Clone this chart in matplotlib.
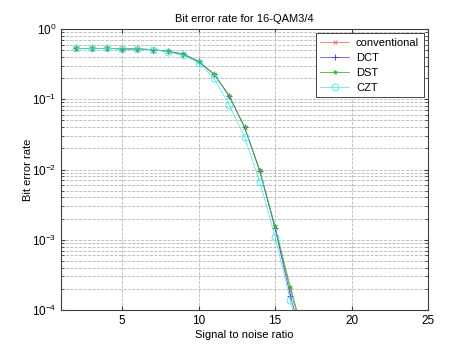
import matplotlib
matplotlib.use("Agg")
import matplotlib.pyplot as plt
import numpy as np

plt.rcParams['font.family'] = ['Liberation Sans', 'DejaVu Sans']
plt.rcParams['mathtext.fontset'] = 'custom'
plt.rcParams['mathtext.rm'] = 'Liberation Sans'
plt.rcParams['mathtext.it'] = 'Liberation Sans'

snr = [2, 3, 4, 5, 6, 7, 8, 9, 10, 11, 12, 13, 14, 15, 16, 17]

ber_conv = [0.53, 0.53, 0.53, 0.52, 0.52, 0.51, 0.48, 0.44, 0.345, 0.228, 0.112,
            0.040, 0.0095, 0.00150, 1.9e-4, 3.3e-5]
ber_dct = [0.53, 0.53, 0.53, 0.52, 0.52, 0.51, 0.48, 0.44, 0.345, 0.228, 0.112,
           0.040, 0.0095, 0.00145, 1.6e-4, 2.5e-5]
ber_dst = [0.53, 0.53, 0.53, 0.52, 0.52, 0.51, 0.48, 0.44, 0.345, 0.229, 0.113,
           0.0405, 0.0097, 0.00155, 2.1e-4, 3.5e-5]
ber_czt = [0.53, 0.53, 0.53, 0.52, 0.52, 0.51, 0.47, 0.42, 0.33, 0.20, 0.083,
           0.029, 0.0067, 0.0011, 1.37e-4, 2.0e-5]

fig = plt.figure(figsize=(4.74, 3.48), dpi=100)
ax = fig.add_axes([61 / 474, 1 - 310 / 348, 367 / 474, 281 / 348])

ax.semilogy(snr, ber_conv, color='#ff5050', marker='x', ms=3, mew=0.6, lw=0.5, label='conventional')
ax.semilogy(snr, ber_dct, color='#3030ff', marker='+', ms=4, mew=0.6, lw=0.5, label='DCT')
ax.semilogy(snr, ber_dst, color='#30c030', marker='*', ms=3.5, mew=0.4, lw=0.6, label='DST')
ax.semilogy(snr, ber_czt, color='#40e8e8', marker='o', ms=5, mfc='none', mew=0.6, lw=0.5, label='CZT')

ax.set_xlim(1, 25)
ax.set_ylim(1e-4, 1)
ax.set_xticks([5, 10, 15, 20, 25])
ax.tick_params(axis='both', which='both', direction='in', labelsize=8.5,
               top=True, right=True, color='#404040')
ax.tick_params(axis='both', which='major', length=3)
ax.tick_params(axis='both', which='minor', length=2)
ax.grid(True, which='major', color='#b8b8b8', ls='--', lw=0.6)
ax.grid(True, which='minor', axis='y', color='#b8b8b8', ls='--', lw=0.6)
for spine in ax.spines.values():
    spine.set_color('#404040')
    spine.set_linewidth(0.8)

ax.set_title('Bit error rate for 16-QAM3/4', fontsize=8, pad=5)
ax.set_xlabel('Signal to noise ratio', fontsize=8, labelpad=2)
ax.set_ylabel('Bit error rate', fontsize=8)
ax.yaxis.set_label_coords(-(61 - 33) / 367, 0.5)

leg = ax.legend(loc='upper right', fontsize=8, fancybox=False, framealpha=1,
                edgecolor='#404040', borderaxespad=0.4, handlelength=2.6,
                handletextpad=0.6, labelspacing=0.45)
leg.get_frame().set_linewidth(0.7)

fig.savefig('out.png', dpi=100)
